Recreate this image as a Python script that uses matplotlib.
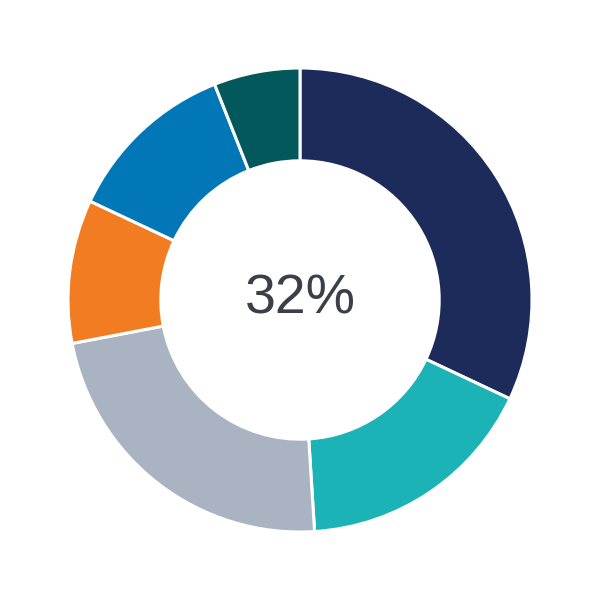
import matplotlib
matplotlib.use("Agg")
from matplotlib import pyplot as plt

shares = [32, 17, 23, 10, 12, 6]
colors = ["#1c2b5a", "#1bb3b6", "#a9b3c1", "#f27c21", "#0177b7", "#02585a"]
center_label = "32%"

fig = plt.figure(figsize=(6, 6), dpi=100)
ax = fig.add_axes([0, 0, 1, 1])
ax.pie(shares, colors=colors, startangle=90, counterclock=False, radius=1,
       wedgeprops=dict(width=0.4, edgecolor="white", linewidth=2.2))
ax.text(0, 0, center_label, ha="center", va="center", fontsize=40,
        color="#3b3f48", family="Liberation Sans")
lim = 300 / 232
ax.set_xlim(-lim, lim)
ax.set_ylim(-lim, lim)
ax.set_aspect("equal")
ax.axis("off")
fig.savefig("out.png", dpi=100, facecolor="white")
